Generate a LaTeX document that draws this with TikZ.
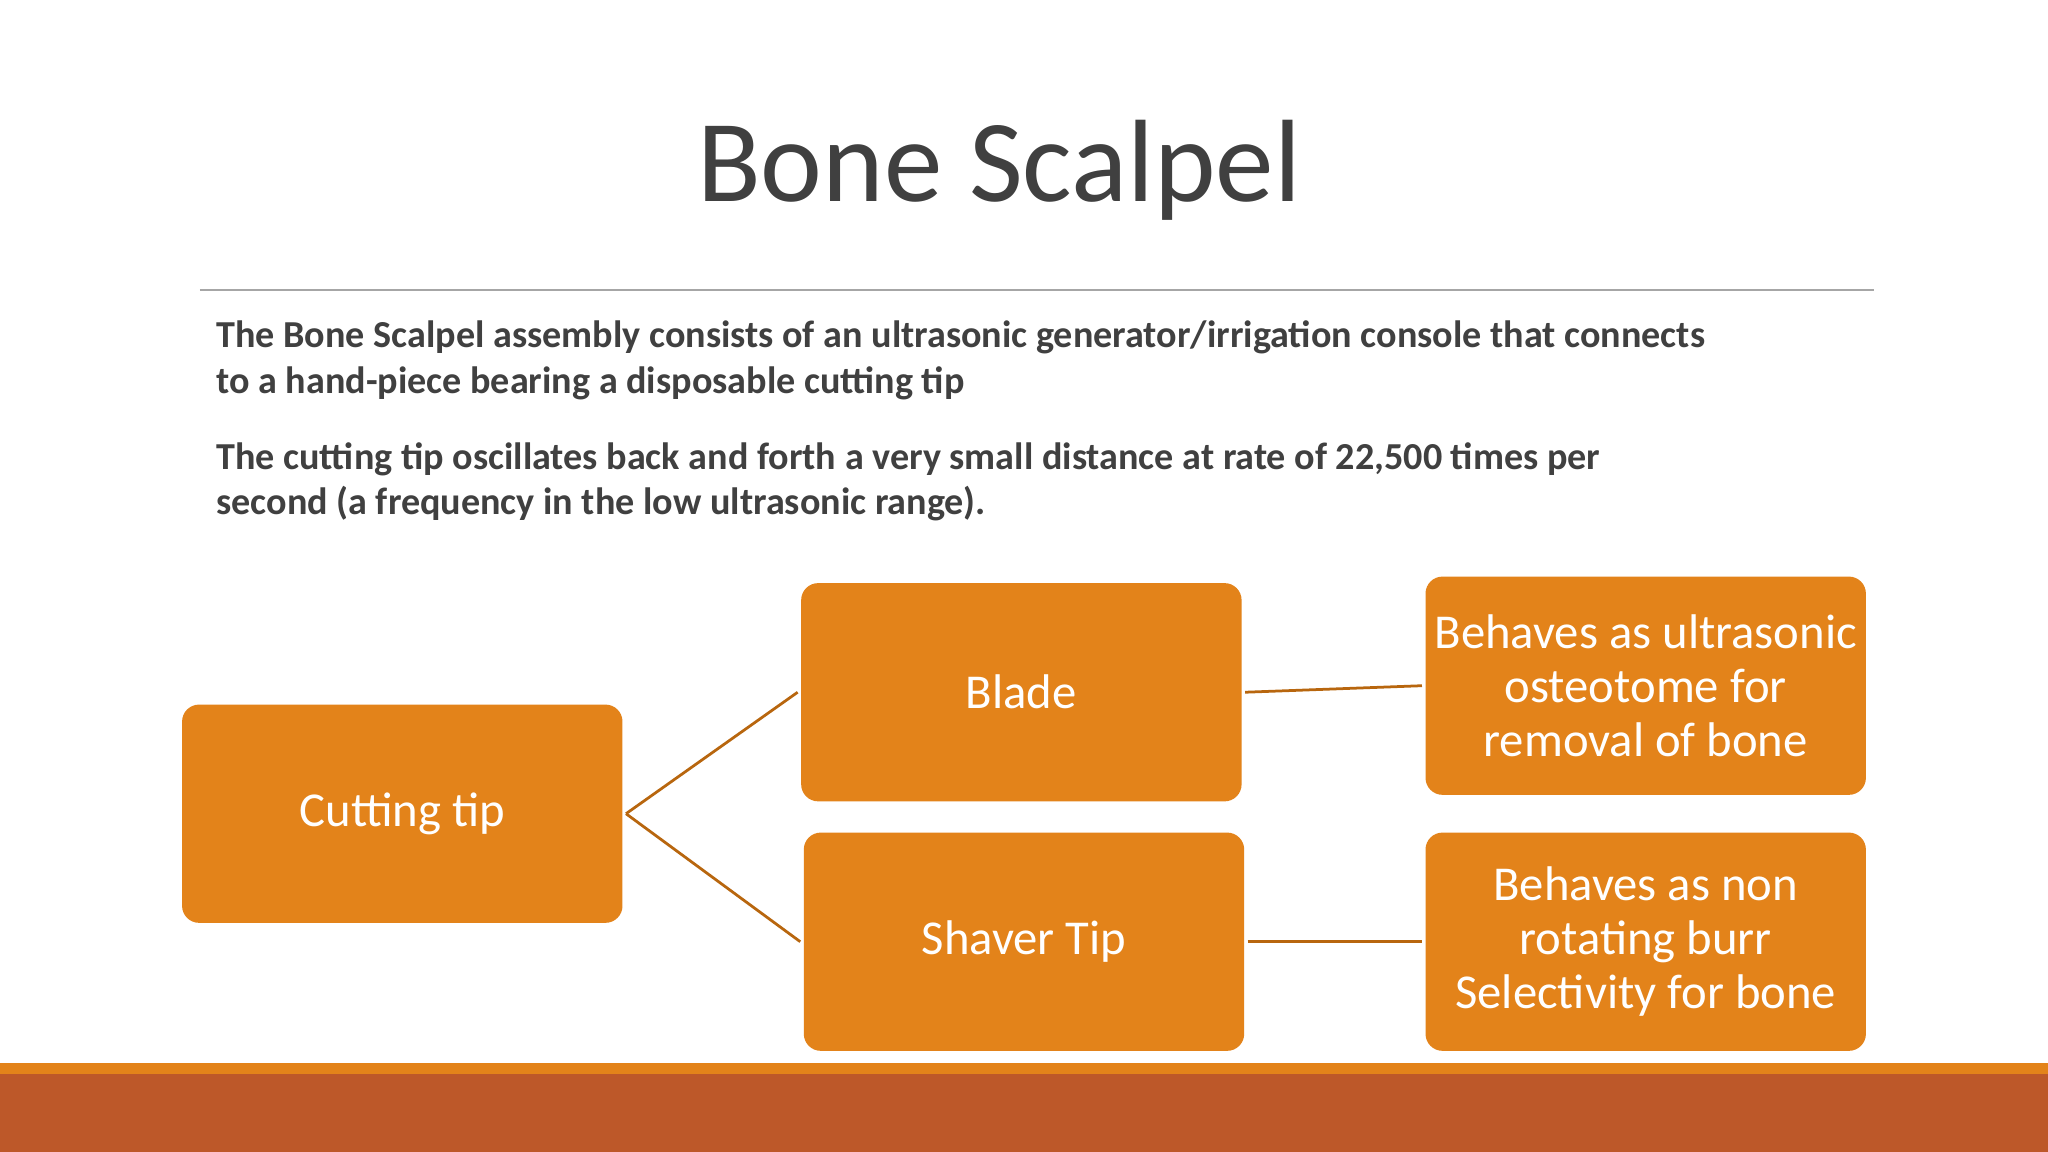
\documentclass[tikz,border=0pt]{standalone}
\usepackage{fontspec}
\setmainfont{Carlito}
\definecolor{orng}{HTML}{E3831A}
\definecolor{rust}{HTML}{BD5829}
\definecolor{conn}{HTML}{B8660E}
\definecolor{txt}{HTML}{404040}
\begin{document}
\begin{tikzpicture}[x=0.01cm,y=-0.01cm,
  box/.style={fill=orng,rounded corners=0.13cm,minimum width=3.37cm,minimum height=1.67cm,text=white,align=center,font=\fontsize{10.6}{11.7}\selectfont,inner sep=0pt},
  link/.style={conn,line width=0.6pt}]
\fill[white] (0,0) rectangle (1568,882);
\node[text=txt,font=\fontsize{25.5}{30}\selectfont] (title) at (765,130) {Bone Scalpel};
\draw[gray!70,line width=0.6pt] (153,222) -- (1435,222);
\node[anchor=north west,text=txt,font=\bfseries\fontsize{8.3}{9.95}\selectfont,align=left,inner sep=0pt] (p1) at (165,245)
 {The Bone Scalpel assembly consists of an ultrasonic generator/irrigation console that connects\\to a hand-piece bearing a disposable cutting tip};
\node[anchor=north west,text=txt,font=\bfseries\fontsize{8.3}{9.95}\selectfont,align=left,inner sep=0pt] (p2) at (165,338)
 {The cutting tip oscillates back and forth a very small distance at rate of 22,500 times per\\second (a frequency in the low ultrasonic range).};
\node[box] (cut) at (308,623) {Cutting tip};
\node[box] (blade) at (782,530) {Blade};
\node[box] (shaver) at (784,721) {Shaver Tip};
\node[box] (b1) at (1260,525) {Behaves as ultrasonic\\osteotome for\\removal of bone};
\node[box] (b2) at (1260,721) {Behaves as non\\rotating burr\\Selectivity for bone};
\draw[link] ([xshift=0.02cm]cut.east) -- ([xshift=-0.02cm]blade.west);
\draw[link] ([xshift=0.02cm]cut.east) -- ([xshift=-0.02cm]shaver.west);
\draw[link] ([xshift=0.02cm]blade.east) -- ([xshift=-0.02cm]b1.west);
\draw[link] ([xshift=0.02cm]shaver.east) -- ([xshift=-0.02cm]b2.west);
\fill[orng] (0,814) rectangle (1568,822);
\fill[rust] (0,822) rectangle (1568,882);
\end{tikzpicture}
\end{document}
